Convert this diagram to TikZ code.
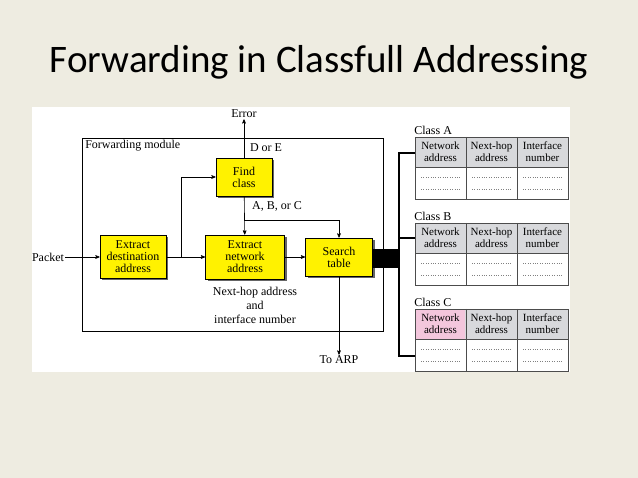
\documentclass[tikz,border=0pt]{standalone}
\usepackage{fontspec}
\setmainfont{Liberation Serif}
\newfontfamily\titlefont{Carlito}
\usetikzlibrary{arrows,positioning,shadows}
\definecolor{slidebg}{HTML}{EEECE1}
\definecolor{boxyellow}{HTML}{FFF200}
\definecolor{hdrgray}{HTML}{D8D9DC}
\definecolor{hdrpink}{HTML}{F3C6DC}
\begin{document}
\begin{tikzpicture}[x=1pt,y=-1pt,>=stealth',semithick,font=\fontsize{12}{12}\selectfont,
    yellowbox/.style={rectangle, draw=black, fill=boxyellow, thick, align=center, inner sep=1pt,
                      drop shadow={shadow xshift=2pt,shadow yshift=-2pt,fill=black!60,opacity=1}},
    lbl/.style={inner sep=1pt, align=center},
    cell/.style={draw=black!70, thick}]
  \fill[slidebg] (0,0) rectangle (638,478);
  \useasboundingbox (0,0) rectangle (638,478);
  \node[font=\titlefont\fontsize{39}{39}\selectfont] (title) at (319,62) {Forwarding in Classfull Addressing};
  \fill[white] (32,107) rectangle (570,372);

  % forwarding module
  \draw[thick] (82,138) rectangle (383,331);
  \node[lbl, anchor=west] (fwd) at (84,146) {Forwarding module};

  \node[yellowbox, minimum width=56pt, minimum height=38pt] (find) at (244,177) {Find\\class};
  \node[yellowbox, minimum width=66pt, minimum height=43pt] (dest) at (133,257) {Extract\\destination\\address};
  \node[yellowbox, minimum width=79pt, minimum height=44pt] (net) at (245,257) {Extract\\network\\address};
  \node[yellowbox, minimum width=67pt, minimum height=38pt] (search) at (339,257) {Search\\table};

  \node[lbl] (err) at (244,114) {Error};
  \node[lbl] (doe) at (266,148) {D or E};
  \node[lbl] (abc) at (277,206) {A, B, or C};
  \node[lbl] (pkt) at (48,257) {Packet};
  \node[lbl] (arp) at (339,360) {To ARP};
  \node[lbl, font=\fontsize{12}{14}\selectfont] (nh) at (255,305) {Next-hop address\\and\\interface number};
  \coordinate (split) at (181,257);
  \coordinate (fork) at (244,220);

  \draw[->] (pkt) -- (dest);
  \draw[->] (dest) -- (net);
  \draw[->] (split) |- (find);
  \draw[->] (find) -- (err);
  \draw[->] (find) -- (net);
  \draw[->] (fork) -| (search);
  \draw[->] (net) -- (search);
  \draw[->] (search) -- (arp);

  % tables
  \fill[black] (372,249) rectangle (400,268);
  \draw[line width=2.5pt] (415,153) -| (399,356) -- (415,356);
  \draw[line width=2.5pt] (399,238) -- (415,238);
  \foreach \cls/\top in {A/137, B/223, C/309} {
    \node[lbl, anchor=south west] (lab\cls) at (413,\top-1) {Class \cls};
    \fill[hdrgray] (415,\top) rectangle (568,\top+30);
    \draw[cell] (415,\top) rectangle (568,\top+62);
    \draw[cell] (415,\top+30) -- (568,\top+30);
    \draw[cell] (466,\top) -- (466,\top+62) (517,\top) -- (517,\top+62);
    \foreach \dy in {40,52}
      \draw[black!50, thin, dotted] (421,\top+\dy) -- (460,\top+\dy)
                                    (472,\top+\dy) -- (511,\top+\dy)
                                    (523,\top+\dy) -- (562,\top+\dy);
  }
  \fill[hdrpink] (415.8,309.8) rectangle (465.3,338.8);
  \foreach \top in {137,223,309}
    \foreach \x/\txt in {440.5/{Network\\address}, 491.5/{Next-hop\\address}, 542.5/{Interface\\number}}
      \node[lbl, font=\fontsize{11}{12}\selectfont] at (\x,\top+15) {\txt};
\end{tikzpicture}
\end{document}
